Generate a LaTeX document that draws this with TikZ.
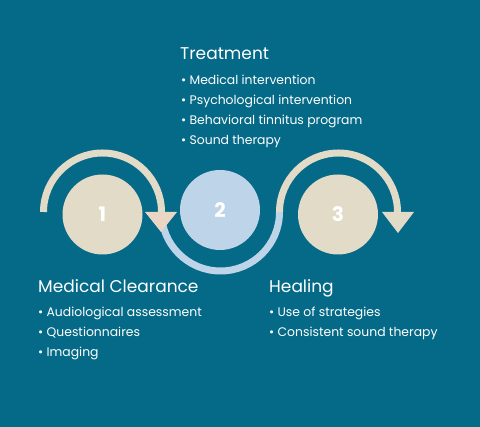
\documentclass[tikz,border=0pt]{standalone}
\usepackage{fontspec}
\setmainfont{Poppins}
\usetikzlibrary{positioning}
\definecolor{bgteal}{HTML}{056A87}
\definecolor{sand}{HTML}{E2DBC8}
\definecolor{sky}{HTML}{BDD4E9}
\definecolor{peach}{HTML}{E9D6C4}
\tikzset{
	stepdisc/.style={circle, minimum size=80pt, inner sep=0pt, text=white, font=\bfseries\fontsize{20}{20}\selectfont},
	heading/.style={anchor=base west, inner sep=0pt, text=white, font=\fontsize{17}{20}\selectfont},
	item/.style={anchor=base west, inner sep=0pt, text=white, font=\fontsize{12.4}{15}\selectfont},
	track/.style={line width=7pt},
}
\begin{document}
\begin{tikzpicture}[x=1pt, y=1pt]
			%%%%% START %%%%%
			
			\fill[bgteal] (0, 0) rectangle (480, 427);
			\useasboundingbox (0, 0) rectangle (480, 427);
			
			\draw[track, sand] (43.5, 215) arc (180:0:59);
			\draw[track, sky] (161.5, 215) arc (180:360:59);
			\draw[track, sand] (279.5, 215) arc (180:0:59);
			
			\fill[peach] (145, 215) -- (177, 215) -- (161, 195) -- cycle;
			\fill[sand] (382, 215) -- (414, 215) -- (398, 194) -- cycle;
			
			\node[stepdisc, fill=sand] (stepone) at (102.5, 212.5) {1};
			\node[stepdisc, fill=sky] (steptwo) at (220, 217) {2};
			\node[stepdisc, fill=sand] (stepthree) at (338, 212.5) {3};
			
			\node[heading] (treat) at (180, 367) {Treatment};
			\node[item] (treatA) at (181, 342) {• Medical intervention};
			\node[item] (treatB) at (181, 322) {• Psychological intervention};
			\node[item] (treatC) at (181, 302) {• Behavioral tinnitus program};
			\node[item] (treatD) at (181, 282) {• Sound therapy};
			
			\node[heading] (clear) at (38, 134) {Medical Clearance};
			\node[item] (clearA) at (38, 110) {• Audiological assessment};
			\node[item] (clearB) at (38, 90) {• Questionnaires};
			\node[item] (clearC) at (38, 70) {• Imaging};
			
			\node[heading] (heal) at (269, 134) {Healing};
			\node[item] (healA) at (269, 110) {• Use of strategies};
			\node[item] (healB) at (269, 90) {• Consistent sound therapy};
			
			%%%%% END %%%%%
\end{tikzpicture}
\end{document}
